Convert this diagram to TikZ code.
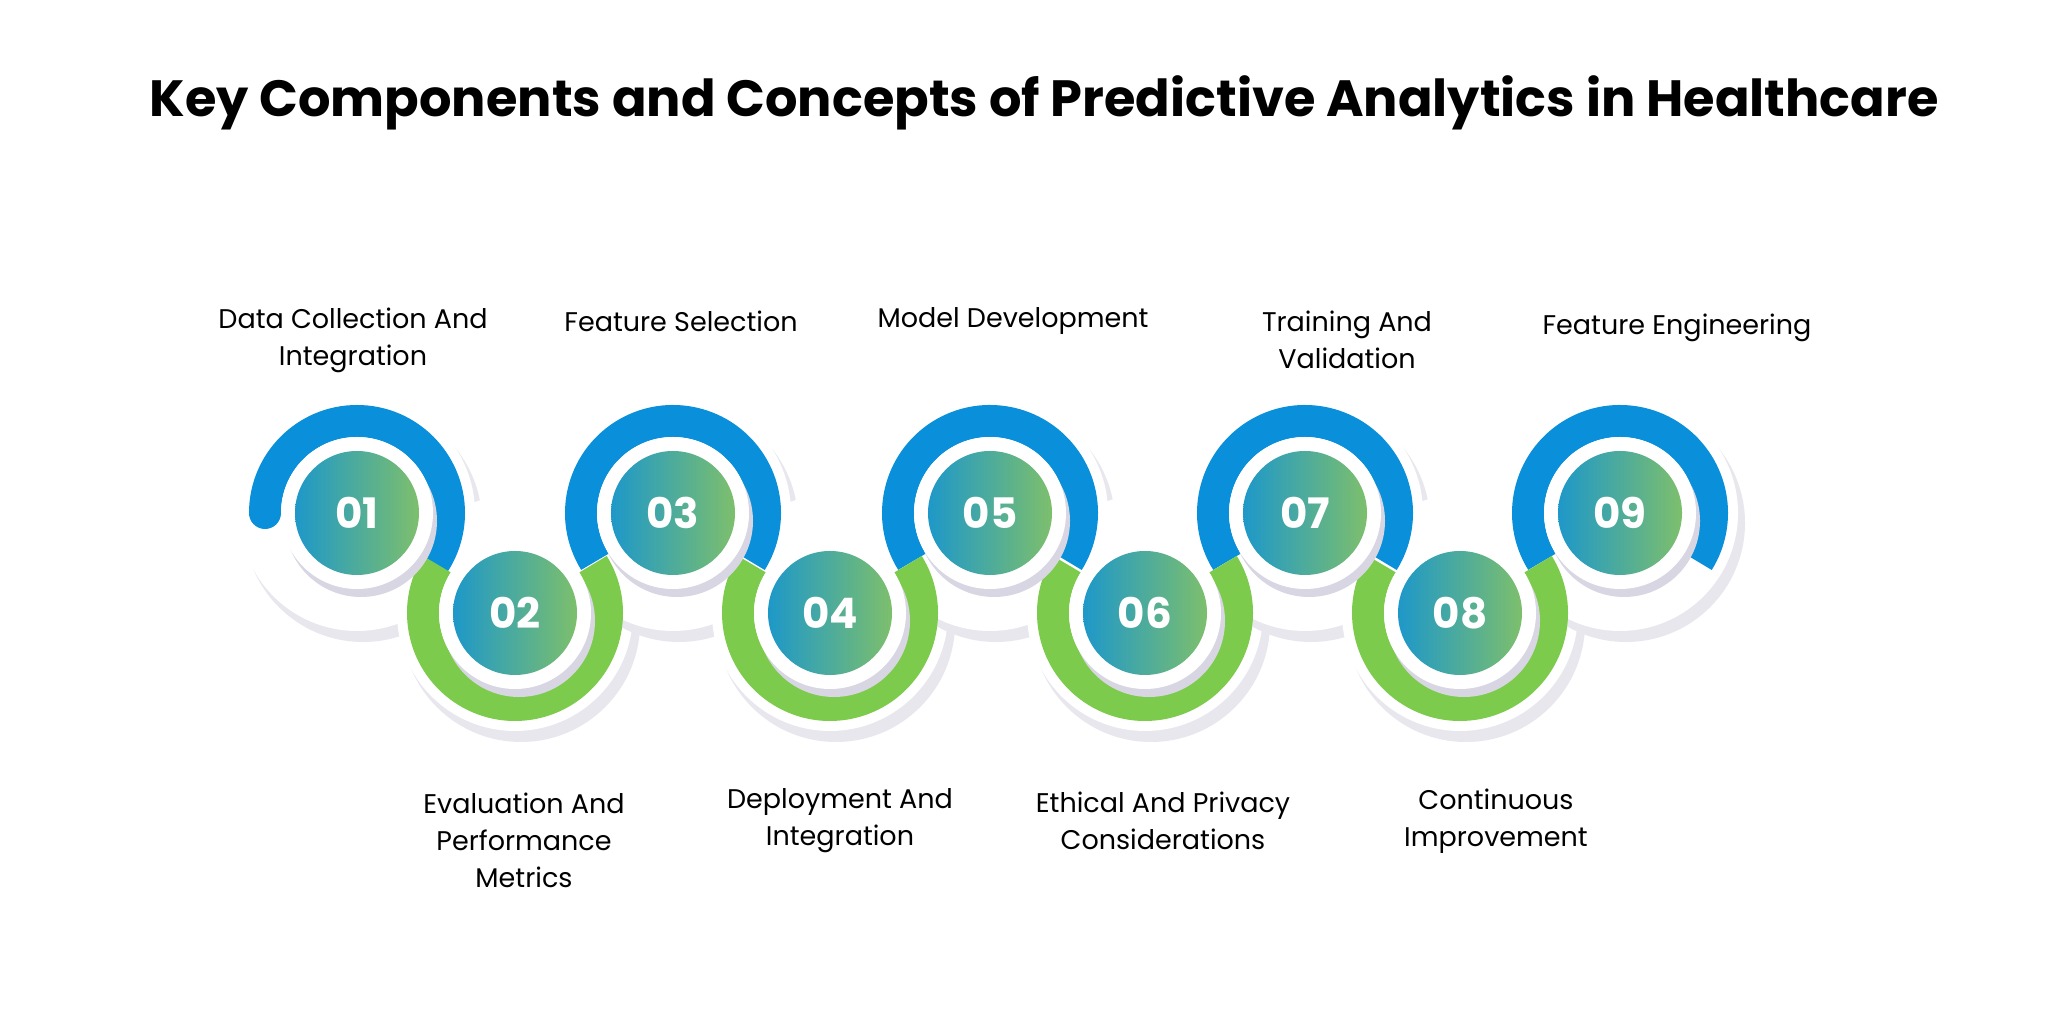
\documentclass[tikz,border=0pt]{standalone}
\usepackage{fontspec}
\setmainfont{Poppins}
\definecolor{arcblue}{HTML}{0A90DA}
\definecolor{arcgreen}{HTML}{7DCB4C}
\definecolor{gblue}{HTML}{1E98C9}
\definecolor{ggreen}{HTML}{7DBF6C}
\definecolor{shad}{HTML}{D8D6E2}
\tikzset{
  lbl/.style={align=center,font=\fontsize{27}{37}\selectfont,text=black},
  num/.style={font=\fontsize{42}{42}\selectfont\bfseries,text=white},
  band/.style={line width=32pt},
}
\begin{document}
\begin{tikzpicture}[x=1pt,y=1pt]
\useasboundingbox (0,0) rectangle (2048,1024);
\fill[white] (0,0) rectangle (2048,1024);
\node[font=\fontsize{51}{51}\selectfont\bfseries] (title) at (1044,921) {Key Components and Concepts of Predictive Analytics in Healthcare};
% centers
\foreach \i/\x/\y in {1/357/511,2/515/411,3/673/511,4/830/411,5/990/511,6/1145/411,7/1305/511,8/1460/411,9/1620/511}{
  \coordinate (c\i) at (\x,\y);
  \fill[shad!60] (\x+6,\y-10) circle (119);
  \fill[white] (c\i) circle (118);
}
% arcs
\draw[band,arcblue,line cap=round] ([shift={(180:92)}]c1) arc (180:-32:92);
\foreach \i in {3,5,7,9}{
  \draw[band,arcblue] ([shift={(212:92)}]c\i) arc (212:-32:92);
}
\foreach \i in {2,4,6,8}{
  \draw[band,arcgreen] ([shift={(148:92)}]c\i) arc (148:392:92);
}
% inner discs
\foreach \i/\t in {1/01,2/02,3/03,4/04,5/05,6/06,7/07,8/08,9/09}{
  \fill[shad] ([shift={(4,-8)}]c\i) circle (76);
  \fill[white] (c\i) circle (76);
  \shade[shading angle=45,left color=gblue,right color=ggreen] (c\i) circle (62);
  \node[num] (n\i) at (c\i) {\t};
}
% labels
\node[lbl] (l1) at (353,684) {Data Collection And\\Integration};
\node[lbl] (l3) at (681,703) {Feature Selection};
\node[lbl] (l5) at (1013,703) {Model Development};
\node[lbl] (l7) at (1347,684) {Training And\\Validation};
\node[lbl] (l9) at (1677,696) {Feature Engineering};
\node[lbl] (l2) at (524,184) {Evaluation And\\Performance\\Metrics};
\node[lbl] (l4) at (840,203) {Deployment And\\Integration};
\node[lbl] (l6) at (1163,203) {Ethical And Privacy\\Considerations};
\node[lbl] (l8) at (1496,203) {Continuous\\Improvement};
\end{tikzpicture}
\end{document}
